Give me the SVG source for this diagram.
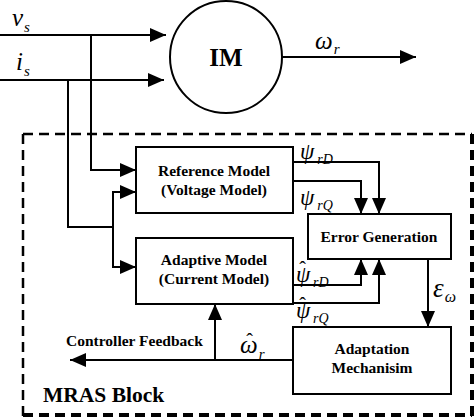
<svg xmlns="http://www.w3.org/2000/svg" width="474" height="418" viewBox="0 0 474 418">
<style>
.ln{fill:none;stroke:#000;stroke-width:2}
.bx{fill:#fff;stroke:#000;stroke-width:2}
.t{font-family:"Liberation Serif","Times New Roman",serif;font-weight:bold;font-size:15.5px;text-anchor:middle}
.m{font-family:"Liberation Serif","Times New Roman",serif;font-style:italic}
.hat{font-style:normal;font-size:20px}
.dash{fill:none;stroke:#000;stroke-dasharray:10 6}
</style>
<defs>
<marker id="ah" markerUnits="userSpaceOnUse" markerWidth="16" markerHeight="14" refX="16" refY="7" orient="auto">
<path d="M0,0 L16,7 L0,14 Z" fill="#000"/>
</marker>
</defs>
<g id="mras-block">
<line class="dash" x1="23" y1="134" x2="472" y2="134" stroke-width="2.5"/>
<line class="dash" x1="23" y1="134" x2="23" y2="416" stroke-width="2.5"/>
<line class="dash" x1="472" y1="134" x2="472" y2="416" stroke-width="4"/>
<line class="dash" x1="23" y1="415" x2="472" y2="415" stroke-width="4"/>
<text x="43" y="402" font-family="Liberation Serif,Times New Roman,serif" font-weight="bold" font-size="21.5">MRAS Block</text>
</g>
<g id="connectors">
<line class="ln" x1="0" y1="35" x2="166" y2="35" marker-end="url(#ah)"/>
<line class="ln" x1="0" y1="80" x2="164" y2="80" marker-end="url(#ah)"/>
<line class="ln" x1="282" y1="57" x2="416" y2="57" marker-end="url(#ah)"/>
<polyline class="ln" points="91,35 91,170 136,170" marker-end="url(#ah)"/>
<polyline class="ln" points="68,80 68,227 113,227"/>
<polyline class="ln" points="136,192 113,192 113,267 136,267" marker-end="url(#ah)"/>
<line class="ln" x1="113" y1="192" x2="136" y2="192" marker-end="url(#ah)"/>
<polyline class="ln" points="293,162 379,162 379,214" marker-end="url(#ah)"/>
<polyline class="ln" points="293,181 361,181 361,214" marker-end="url(#ah)"/>
<polyline class="ln" points="293,285 361,285 361,259" marker-end="url(#ah)"/>
<polyline class="ln" points="293,303 379,303 379,259" marker-end="url(#ah)"/>
<line class="ln" x1="428" y1="259" x2="428" y2="327" marker-end="url(#ah)"/>
<line class="ln" x1="293" y1="360" x2="70" y2="360" marker-end="url(#ah)"/>
<line class="ln" x1="215" y1="360" x2="215" y2="304" marker-end="url(#ah)"/>
</g>
<g id="labels">
<text class="m" x="12" y="26" font-size="25">v<tspan font-size="15" dx="1" dy="6">s</tspan></text>
<text class="m" x="16" y="70" font-size="25">i<tspan font-size="15" dx="1" dy="6">s</tspan></text>
<text class="m" x="315" y="49" font-size="25">ω<tspan font-size="15" dx="1" dy="5">r</tspan></text>
<text class="m" x="300" y="159" font-size="23">ψ<tspan font-size="14" dx="3" dy="5">rD</tspan></text>
<text class="m" x="300" y="205" font-size="23">ψ<tspan font-size="14" dx="3" dy="5">rQ</tspan></text>
<text class="m" x="296" y="282" font-size="23">ψ<tspan class="hat" dx="-11" dy="-6">ˆ</tspan><tspan font-size="14" dx="7" dy="11">rD</tspan></text>
<text class="m" x="296" y="318" font-size="23">ψ<tspan class="hat" dx="-11" dy="-6">ˆ</tspan><tspan font-size="14" dx="7" dy="11">rQ</tspan></text>
<text class="m" x="433" y="297" font-size="27">ε<tspan font-size="16" dx="1" dy="5">ω</tspan></text>
<text class="m" x="240" y="353" font-size="25">ω<tspan class="hat" dx="-11.5" dy="-5">ˆ</tspan><tspan font-size="15" dx="6" dy="11">r</tspan></text>
<text x="66" y="346" font-family="Liberation Serif,Times New Roman,serif" font-weight="bold" font-size="15.5">Controller Feedback</text>
</g>
<g id="im">
<circle cx="226" cy="57" r="56" class="bx"/>
<text x="226" y="66" font-family="Liberation Serif,Times New Roman,serif" font-weight="bold" font-size="25" text-anchor="middle">IM</text>
</g>
<g id="reference-model">
<rect class="bx" x="136" y="147" width="157" height="66"/>
<text class="t" x="214" y="176">Reference Model</text>
<text class="t" x="214" y="195">(Voltage Model)</text>
</g>
<g id="adaptive-model">
<rect class="bx" x="136" y="238" width="157" height="66"/>
<text class="t" x="214" y="265">Adaptive Model</text>
<text class="t" x="214" y="284">(Current Model)</text>
</g>
<g id="error-generation">
<rect class="bx" x="308" y="214" width="143" height="45"/>
<text class="t" x="379" y="242">Error Generation</text>
</g>
<g id="adaptation-mechanism">
<rect class="bx" x="293" y="327" width="158" height="67"/>
<text class="t" x="372" y="354">Adaptation</text>
<text class="t" x="372" y="373">Mechanisim</text>
</g>
</svg>
